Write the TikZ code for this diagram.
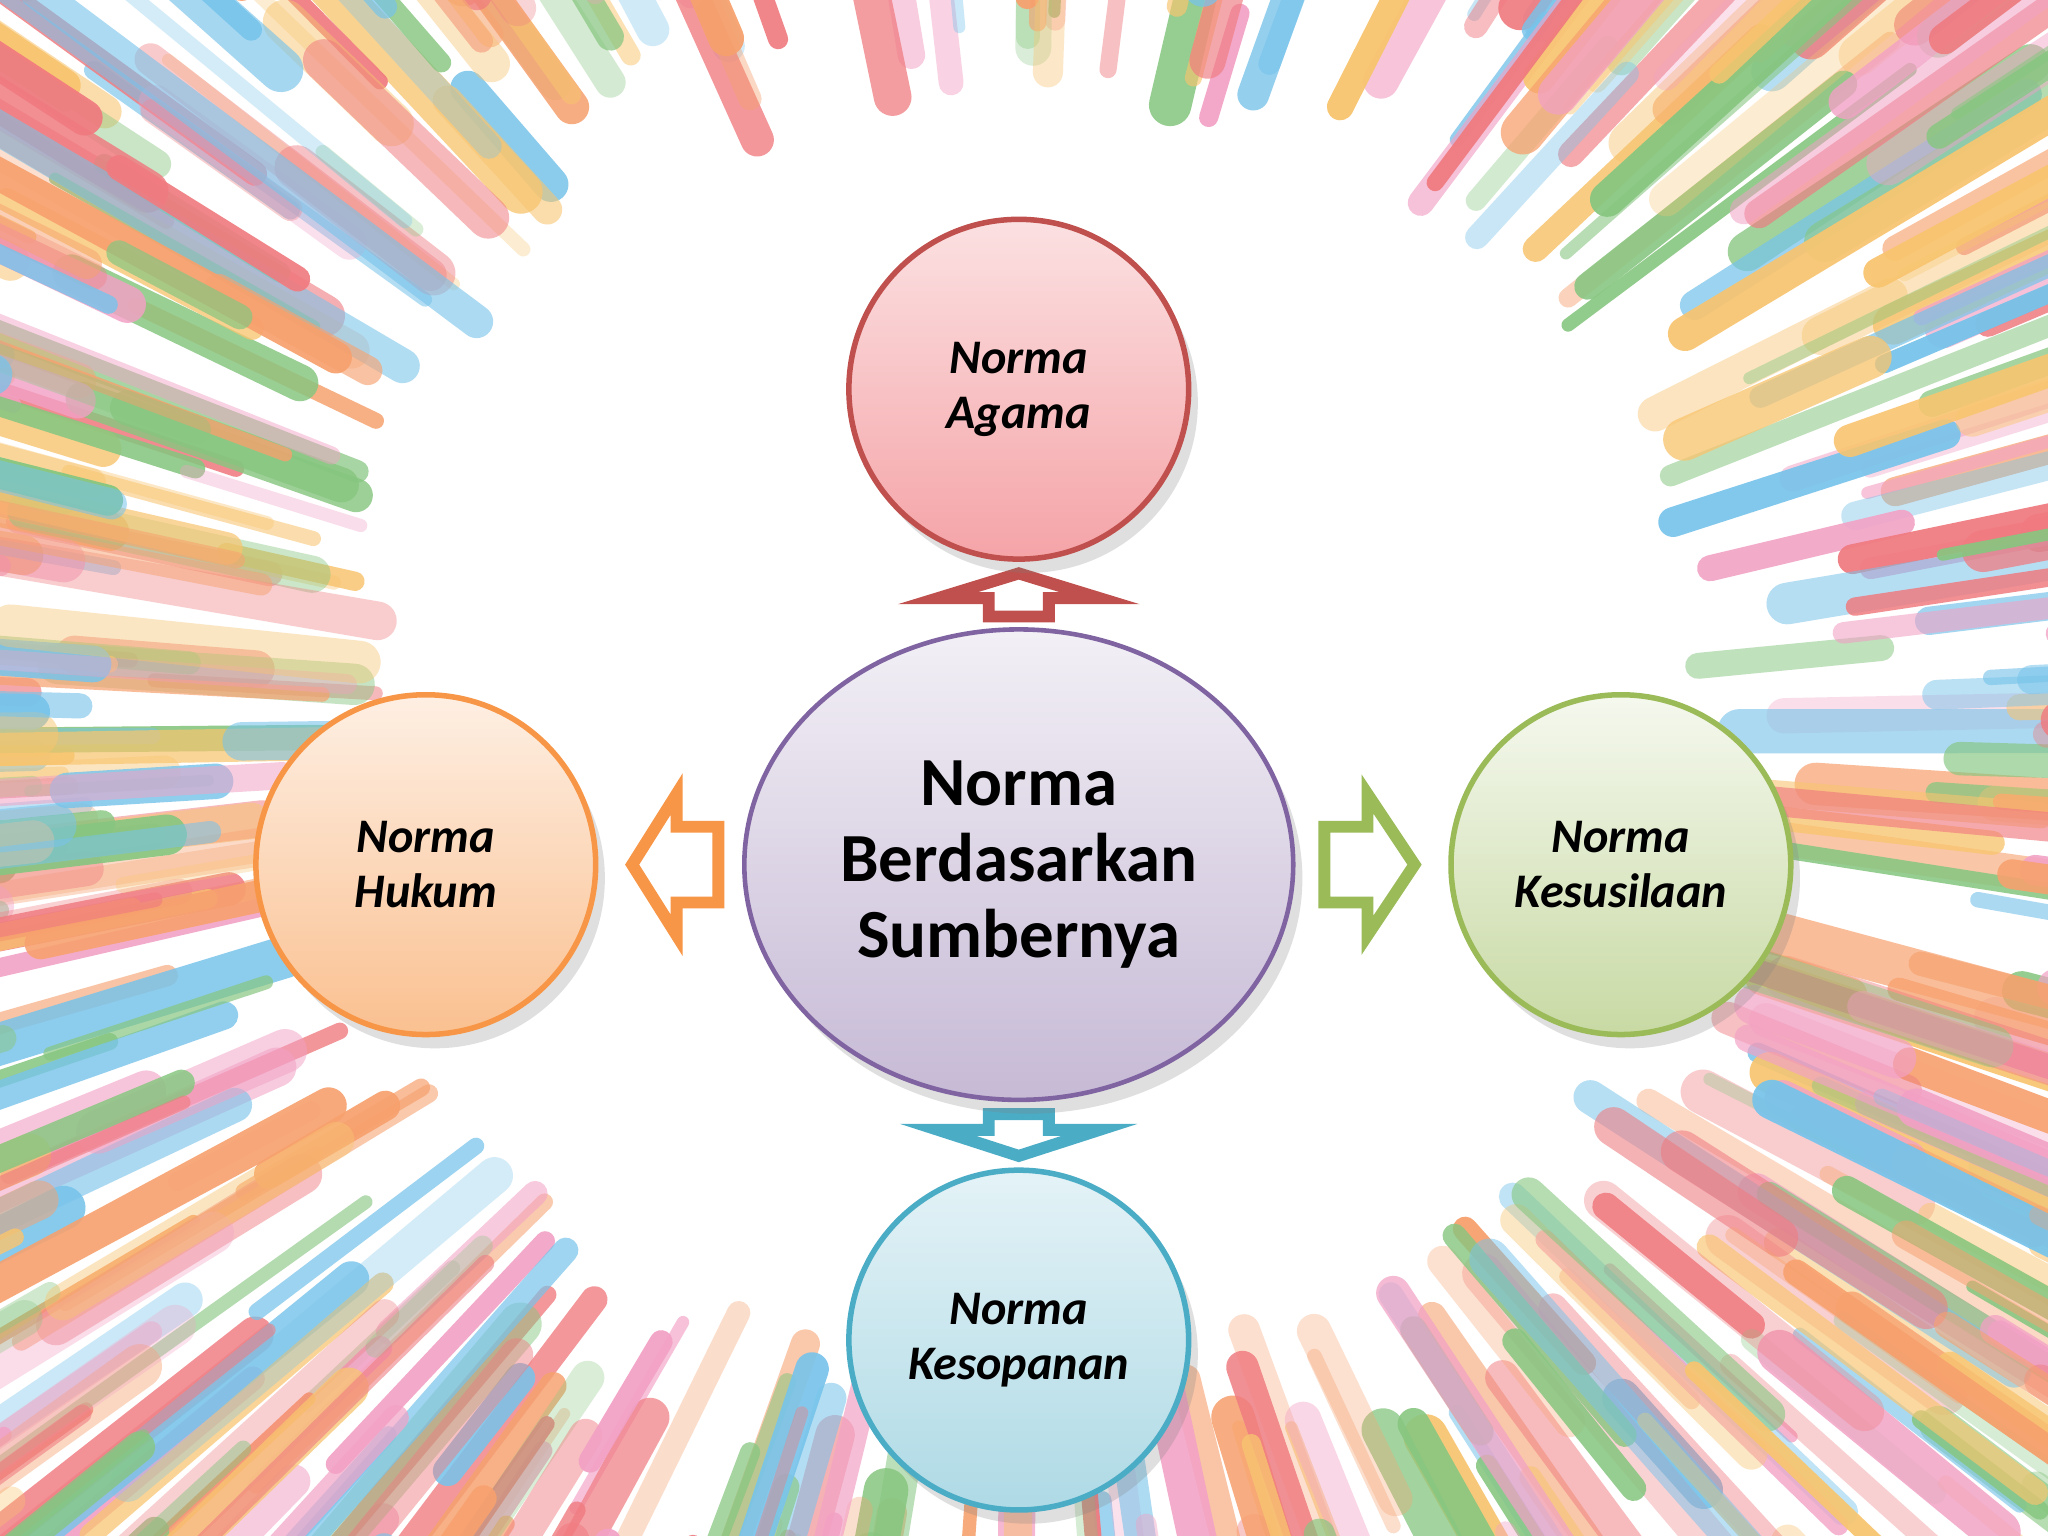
\documentclass[tikz,border=0pt]{standalone}
\usepackage{fontspec}
\setmainfont{Carlito}
\usetikzlibrary{shadows,shapes.geometric}
\definecolor{cR}{HTML}{C0504D}\definecolor{cO}{HTML}{F79646}\definecolor{cG}{HTML}{9BBB59}
\definecolor{cB}{HTML}{4BACC6}\definecolor{cP}{HTML}{8064A2}
\definecolor{s1}{HTML}{E8343C}\definecolor{s2}{HTML}{2FA4E0}\definecolor{s3}{HTML}{46A83C}
\definecolor{s4}{HTML}{F5A623}\definecolor{s5}{HTML}{EC6FA6}\definecolor{s6}{HTML}{F36F21}
\tikzset{
 circ/.style={circle,minimum size=2.6cm,inner sep=0,line width=1.2pt,drop shadow={opacity=0.25,shadow xshift=2pt,shadow yshift=-3pt},align=center,font=\fontsize{10.5pt}{12pt}\selectfont\bfseries\itshape},
 arr/.style={line width=2.6pt,fill=white,line join=miter}
}
\begin{document}
\begin{tikzpicture}[x=0.01cm,y=-0.01cm]
\useasboundingbox (0,0) rectangle (1568,1176);
\fill[white] (0,0) rectangle (1568,1176);
\begin{scope}
\clip (0,0) rectangle (1568,1176);
\pgfmathsetseed{7}
\foreach \i in {1,...,900}{
  \pgfmathsetmacro{\ang}{rnd*360}
  \pgfmathsetmacro{\rr}{480+rnd*520+120*abs(sin(\ang))}
  \pgfmathsetmacro{\len}{100+rnd*380}
  \pgfmathsetmacro{\w}{10+rnd*28}
  \pgfmathtruncatemacro{\c}{1+int(rnd*6)}
  \pgfmathsetmacro{\op}{0.3+rnd*0.65}
  \draw[color=s\c,line width=\w*0.009cm,line cap=round,opacity=\op]
    ({784+\rr*cos(\ang)},{560-0.8*\rr*sin(\ang)}) -- ({784+(\rr+\len)*cos(\ang)},{560-0.8*(\rr+\len)*sin(\ang)});
}
\fill[white,opacity=0.35] (0,0) rectangle (1568,1176);
\end{scope}
% arrows
\draw[arr,draw=cR] (780,439) -- (842,458) -- (803,458) -- (803,472) -- (757,472) -- (757,458) -- (718,458) -- cycle;
\draw[arr,draw=cB] (780,885) -- (842,865) -- (803,865) -- (803,853) -- (757,853) -- (757,865) -- (718,865) -- cycle;
\draw[arr,draw=cO] (484,662) -- (518,608) -- (518,633) -- (550,633) -- (550,691) -- (518,691) -- (518,716) -- cycle;
\draw[arr,draw=cG] (1083,662) -- (1047,608) -- (1047,633) -- (1014,633) -- (1014,691) -- (1047,691) -- (1047,716) -- cycle;
% nodes
\node[ellipse,minimum width=4.2cm,minimum height=3.6cm,inner sep=0,draw=cP,line width=1pt,top color=cP!10,bottom color=cP!45,drop shadow={opacity=0.25,shadow xshift=2pt,shadow yshift=-3pt},align=center,font=\fontsize{15pt}{16.5pt}\selectfont\bfseries] (c) at (780,662) {Norma\\Berdasarkan\\Sumbernya};
\node[circ,draw=cR,top color=s1!15,bottom color=s1!45] (a) at (780,298) {Norma\\Agama};
\node[circ,draw=cB,top color=cB!15,bottom color=cB!45] (b) at (780,1026) {Norma\\Kesopanan};
\node[circ,draw=cO,top color=cO!15,bottom color=cO!60] (h) at (326,662) {Norma\\Hukum};
\node[circ,draw=cG,top color=cG!10,bottom color=cG!55] (k) at (1241,662) {Norma\\Kesusilaan};
\end{tikzpicture}
\end{document}
